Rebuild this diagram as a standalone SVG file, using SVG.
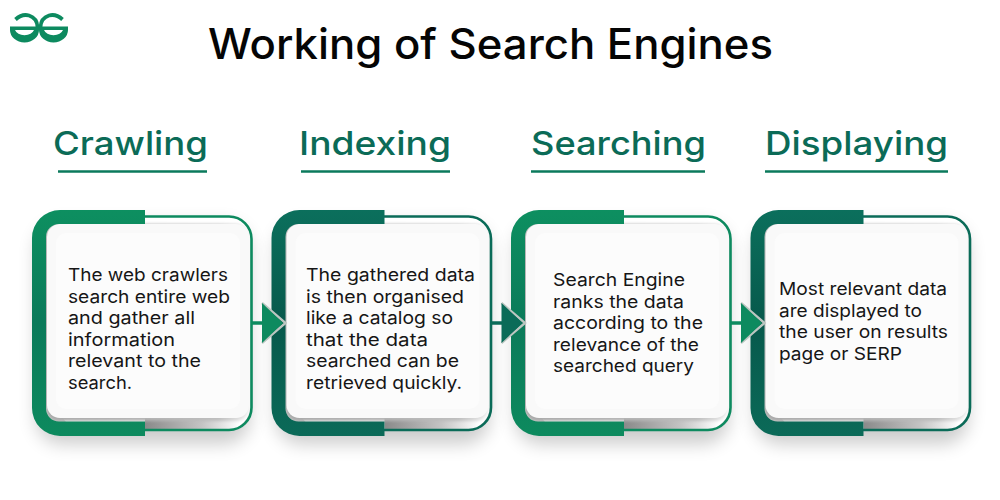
<svg xmlns="http://www.w3.org/2000/svg" width="1000" height="500" viewBox="0 0 1000 500">
<style>
text{font-family:Inter,"Open Sans","Liberation Sans",sans-serif}
.t{font-size:42px;font-weight:500;fill:#050505}
.h{font-size:33px;font-weight:500;fill:#0b6b57}
.b{font-size:17.800px;fill:#161616}
.u{stroke:#0b7a5c;stroke-width:2.5;fill:none}
.tip{fill:none;stroke:#bcc6c1;stroke-width:2.4}
</style>
<defs>
<filter id="sh" x="-20%" y="-20%" width="140%" height="140%"><feGaussianBlur stdDeviation="9"/></filter>
<filter id="sh2" x="-10%" y="-10%" width="120%" height="120%"><feGaussianBlur stdDeviation="1.500"/></filter>
<linearGradient id="g1" x1="0" y1="0" x2="0" y2="1"><stop offset="0" stop-color="#0d8f60"/><stop offset=".5" stop-color="#0b7a5a"/><stop offset="1" stop-color="#0d8a5e"/></linearGradient>
<linearGradient id="g2" x1="0" y1="0" x2="0" y2="1"><stop offset="0" stop-color="#0b6f5c"/><stop offset=".5" stop-color="#07594c"/><stop offset="1" stop-color="#0b6a58"/></linearGradient>
<linearGradient id="gs" x1="0" y1="0" x2="1" y2="0"><stop offset="0" stop-color="#8a8a8a"/><stop offset=".6" stop-color="#c4c4c4"/><stop offset="1" stop-color="#fff"/></linearGradient>
<linearGradient id="gr" x1="0" y1="0" x2="1" y2="0"><stop offset="0" stop-color="#a8a8a8"/><stop offset=".85" stop-color="#bdbdbd"/><stop offset="1" stop-color="#eeeeee"/></linearGradient>
<g id="card">
<rect x="36" y="224" width="214" height="220" rx="26" fill="#000" opacity=".2" filter="url(#sh)"/>
<rect x="60" y="217" width="190" height="212" rx="22" fill="#fff"/>
<rect x="145" y="418" width="95" height="11" fill="url(#gs)"/>
<rect x="46" y="224" width="203" height="197" rx="13" fill="url(#gr)" filter="url(#sh2)"/>
<rect x="47" y="224" width="202" height="194" rx="13" fill="#f9f9f9"/>
<rect x="56" y="233" width="184" height="176" rx="10" fill="#fcfcfc"/>
<path d="M60 216.500H229a22.500 22.500 0 0 1 22.500 22.500V407.500a22.500 22.500 0 0 1-22.500 22.500H60" fill="none" stroke="currentColor" stroke-width="2.600"/>
</g>
<path id="frame" d="M145 210H60a28 28 0 0 0-28 28V408a28 28 0 0 0 28 28H145V421.500H59a13 13 0 0 1-13-13V237a13 13 0 0 1 13-13H145Z"/>
<g id="half">
<path d="M10 30A14.500 12.500 0 0 0 39 30H34A10 7.500 0 0 1 15 30Z"/>
<rect x="10" y="26.500" width="29" height="3.500"/>
<path d="M15.500 19.500Q22 13.500 29 15.500Q37 18 37.500 27" fill="none" stroke="#0d8a5f" stroke-width="3.800"/>
</g>
</defs>
<rect width="1000" height="500" fill="#fff"/>

<g id="logo" fill="#0d8a5f">
<use href="#half"/>
<use href="#half" transform="matrix(-1 0 0 1 78 0)"/>
</g>
<text id="title" class="t" x="208" y="59" textLength="565" lengthAdjust="spacingAndGlyphs">Working of Search Engines</text>

<g id="crawling" color="#0d8a5f">
<text class="h" x="53" y="155" textLength="155" lengthAdjust="spacingAndGlyphs">Crawling</text>
<path class="u" d="M58 171.500H207"/>
<use href="#card"/>
<use href="#frame" fill="url(#g1)"/>
<text class="b" x="68" y="281" textLength="160" lengthAdjust="spacingAndGlyphs">The web crawlers</text>
<text class="b" x="68" y="302.500" textLength="162" lengthAdjust="spacingAndGlyphs">search entire web</text>
<text class="b" x="68" y="324" textLength="127" lengthAdjust="spacingAndGlyphs">and gather all</text>
<text class="b" x="68" y="345.500" textLength="107" lengthAdjust="spacingAndGlyphs">information</text>
<text class="b" x="68" y="367" textLength="133" lengthAdjust="spacingAndGlyphs">relevant to the</text>
<text class="b" x="68" y="388.500" textLength="64" lengthAdjust="spacingAndGlyphs">search.</text>
</g>

<g id="indexing" color="#0a6b58">
<text class="h" x="299" y="155" textLength="152" lengthAdjust="spacingAndGlyphs">Indexing</text>
<path class="u" d="M301 171.500H450"/>
<use href="#card" x="239.500"/>
<use href="#frame" x="239.500" fill="url(#g2)"/>
<text class="b" x="306" y="281" textLength="169" lengthAdjust="spacingAndGlyphs">The gathered data</text>
<text class="b" x="306" y="302.500" textLength="158" lengthAdjust="spacingAndGlyphs">is then organised</text>
<text class="b" x="306" y="324" textLength="147" lengthAdjust="spacingAndGlyphs">like a catalog so</text>
<text class="b" x="306" y="345.500" textLength="122" lengthAdjust="spacingAndGlyphs">that the data</text>
<text class="b" x="306" y="367" textLength="153" lengthAdjust="spacingAndGlyphs">searched can be</text>
<text class="b" x="306" y="388.500" textLength="156" lengthAdjust="spacingAndGlyphs">retrieved quickly.</text>
</g>

<g id="searching" color="#0d8a5f">
<text class="h" x="531" y="155" textLength="175" lengthAdjust="spacingAndGlyphs">Searching</text>
<path class="u" d="M531 171.500H705"/>
<use href="#card" x="479"/>
<use href="#frame" x="479" fill="url(#g1)"/>
<text class="b" x="553" y="286" textLength="132" lengthAdjust="spacingAndGlyphs">Search Engine</text>
<text class="b" x="553" y="307.500" textLength="131" lengthAdjust="spacingAndGlyphs">ranks the data</text>
<text class="b" x="553" y="329" textLength="150" lengthAdjust="spacingAndGlyphs">according to the</text>
<text class="b" x="553" y="351" textLength="146" lengthAdjust="spacingAndGlyphs">relevance of the</text>
<text class="b" x="553" y="372" textLength="141" lengthAdjust="spacingAndGlyphs">searched query</text>
</g>

<g id="displaying" color="#0a6b58">
<text class="h" x="765" y="155" textLength="183" lengthAdjust="spacingAndGlyphs">Displaying</text>
<path class="u" d="M765 171.500H948"/>
<use href="#card" x="718.500"/>
<use href="#frame" x="718.500" fill="url(#g2)"/>
<text class="b" x="779" y="295" textLength="168" lengthAdjust="spacingAndGlyphs">Most relevant data</text>
<text class="b" x="779" y="316.500" textLength="143" lengthAdjust="spacingAndGlyphs">are displayed to</text>
<text class="b" x="779" y="338" textLength="169" lengthAdjust="spacingAndGlyphs">the user on results</text>
<text class="b" x="779" y="359.500" textLength="123" lengthAdjust="spacingAndGlyphs">page or SERP</text>
</g>

<g id="connectors">
<g stroke-width="3.500" fill="none"><path d="M252 323H263" stroke="#0d8a5f"/><path d="M491.500 323H503" stroke="#0a6b58"/><path d="M731 323H742" stroke="#0d8a5f"/></g>
<g>
<path class="tip" d="M262 303L285.500 323L262 343"/><path d="M262 303L283 323L262 343Z" fill="#0d8a5f"/>
<path class="tip" d="M501.500 303L525 323L501.500 343"/><path d="M501.500 303L522.500 323L501.500 343Z" fill="#0a6b58"/>
<path class="tip" d="M741 303L764.500 323L741 343"/><path d="M741 303L762 323L741 343Z" fill="#0d8a5f"/>
</g>
</g>
</svg>
